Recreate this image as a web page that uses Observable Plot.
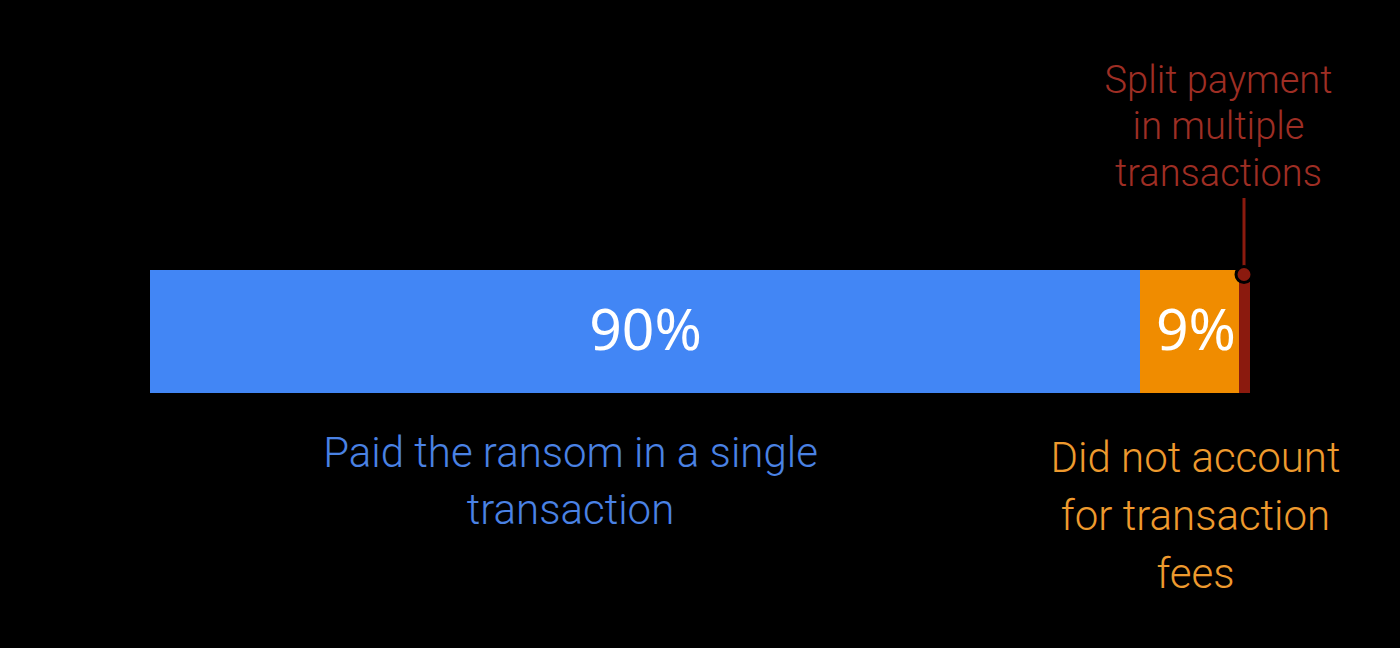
<!DOCTYPE html>
<html>
<head>
<meta charset="utf-8">
<script src="https://cdn.jsdelivr.net/npm/d3@7"></script>
<script src="https://cdn.jsdelivr.net/npm/@observablehq/plot@0.6"></script>
<style>
  html, body { margin: 0; padding: 0; background: #000; }
  #chart svg { display: block; }
</style>
</head>
<body>
<div id="chart"></div>
<script>
const categories = ["single", "fees", "split"];
const labels = [
  "Paid the ransom in a single\ntransaction",
  "Did not account\nfor transaction\nfees",
  "Split payment\nin multiple\ntransactions"
];
const values = [90, 9, 1];
const valueLabels = ["90%", "9%", ""];
const barColors = ["#4286F5", "#F08C00", "#8B1A0E"];
const labelColors = ["#4A82E4", "#EE9A2E", "#9E2E24"];

const data = categories.map((c, i) => ({
  category: c, value: values[i], label: labels[i], pct: valueLabels[i], row: "bar"
}));

const stack = (opts) => Plot.stackX({x: "value", y: "row", order: null, ...opts});
const only = (c, opts) => Plot.filter(d => d.category === c, stack(opts));

const font = "Roboto, 'Noto Sans', sans-serif";
const pctFont = "'Noto Sans', 'Open Sans', sans-serif";

const chart = Plot.plot({
  width: 1400,
  height: 648,
  marginLeft: 150,
  marginRight: 150,
  marginTop: 0,
  marginBottom: 0,
  style: {background: "#000", fontFamily: font},
  x: {domain: [0, 100], axis: null},
  y: {type: "band", domain: ["bar"], range: [270, 393], padding: 0, axis: null},
  color: {domain: categories, range: barColors},
  marks: [
    Plot.barX(data, stack({fill: "category"})),
    Plot.text(data, only("single", {text: "pct", fill: "#fff", fontSize: 57, fontFamily: pctFont})),
    Plot.text(data, only("fees", {text: "pct", fill: "#fff", fontSize: 57, fontFamily: pctFont, dx: 6})),
    // leader line and dot for the tiny segment
    Plot.tickX(data, only("split", {
      stroke: barColors[2], strokeWidth: 3, insetBottom: 47, dy: -72, dx: -1
    })),
    Plot.dot(data, only("split", {
      r: 8, fill: barColors[2], stroke: "#000", strokeWidth: 3, dy: -57.5, dx: -1
    })),
    // category labels
    Plot.text(data, only("single", {
      text: "label", fill: labelColors[0], fontSize: 42, fontWeight: 300,
      lineAnchor: "top", lineHeight: 1.36, dy: 94.5, dx: -75
    })),
    Plot.text(data, only("fees", {
      text: "label", fill: labelColors[1], fontSize: 42, fontWeight: 300,
      lineAnchor: "top", lineHeight: 1.38, dy: 98.5, dx: 5.5
    })),
    Plot.text(data, only("split", {
      text: "label", fill: labelColors[2], fontSize: 38, fontWeight: 300,
      lineAnchor: "bottom", lineHeight: 1.22, dy: -146.5, dx: -26.5
    }))
  ]
});
document.getElementById("chart").appendChild(chart);
</script>
</body>
</html>
